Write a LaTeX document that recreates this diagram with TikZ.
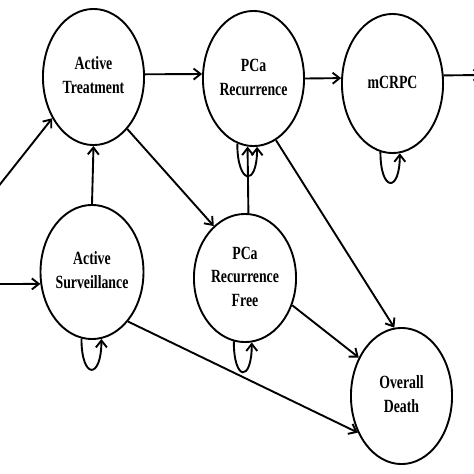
\documentclass[tikz,border=0pt]{standalone}
\usepackage{fontspec}
\setmainfont{Liberation Serif}
\usetikzlibrary{shapes.geometric,arrows.meta}
\newcommand\stxt[1]{\scalebox{1}[1.35]{\begin{tabular}{@{}c@{}}#1\end{tabular}}}
\begin{document}
\begin{tikzpicture}[x=1pt,y=1pt,
  stt/.style={ellipse, draw, line width=1.9pt, inner sep=0pt,
    font=\fontsize{13.8}{17.5}\selectfont\bfseries},
  arr/.style={line width=1.9pt, -{Straight Barb[length=7pt,width=11pt]}}]
\useasboundingbox (0,0) rectangle (474,-474);
\clip (0,0) rectangle (474,-474);
% states
\node[stt, minimum width=101.1pt, minimum height=136.1pt] (at)   at (93.5,-77)  {\stxt{Active\\Treatment}};
\node[stt, minimum width=101.1pt, minimum height=135.1pt] (pcar) at (253.5,-78.5) {\stxt{PCa\\Recurrence}};
\node[stt, minimum width=101.1pt, minimum height=139.1pt] (mc)   at (392.5,-83.5) {\stxt{mCRPC}};
\node[stt, minimum width=102.1pt, minimum height=134.1pt] (as)   at (92,-272)   {\stxt{Active\\Surveillance}};
\node[stt, minimum width=102.1pt, minimum height=128.1pt] (pcf)  at (245,-278)  {\stxt{PCa\\Recurrence\\Free}};
\node[stt, minimum width=101.1pt, minimum height=136.1pt] (od)   at (401.5,-396) {\stxt{Overall\\Death}};
% free ends
\coordinate (in1) at (-10,-197);
\coordinate (in2) at (-10,-284);
\coordinate (out) at (482,-75);
% connectors
\draw[arr] (in1) -- (at.225);
\draw[arr] (in2) -- (as.193);
\draw[arr] (at.3) -- (pcar.175);
\draw[arr] (pcar.0) -- (mc.174);
\draw[arr] (mc.9) -- (out);
\draw[arr] (as.north) -- (at.south);
\draw[arr] (at.303) -- (pcf.121);
\draw[arr] (pcf.87) -- (pcar.265);
\draw[arr] (pcar.290.6) -- (od.96.2);
\draw[arr] (pcf.330.6) -- (od.138.8);
\draw[arr] (as.306.7) -- (od.220.5);
% self loops
\draw[arr] (pcar.256.6) .. controls +(0,-41) and +(0,-41) .. (pcar.273);
\draw[arr] (mc.260.5) .. controls +(0,-40) and +(0,-40) .. (mc.276.1);
\draw[arr] (as.261.5) .. controls +(0,-41) and +(0,-41) .. (as.278.5);
\draw[arr] (pcf.260.2) .. controls +(0,-40) and +(0,-40) .. (pcf.276.2);
\end{tikzpicture}
\end{document}
